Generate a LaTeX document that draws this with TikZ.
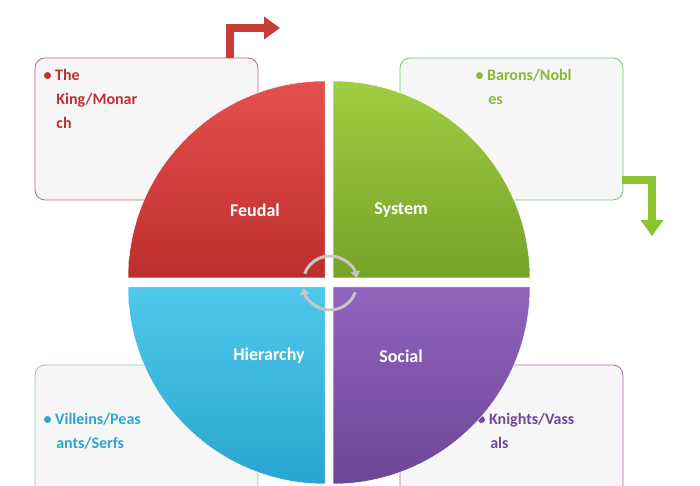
\documentclass[tikz,border=0pt]{standalone}
\usepackage{fontspec}
\setmainfont{Carlito}
\usetikzlibrary{arrows.meta}
\begin{document}
\begin{tikzpicture}[x=1pt,y=1pt,
  box/.style={rounded corners=10pt,fill=gray!7,line width=0.8pt},
  quad/.style={draw=white,line width=0.5pt},
  lab/.style={text=white,font=\bfseries\fontsize{18}{20}\selectfont},
  txt/.style={anchor=north west,align=left,font=\bfseries\fontsize{16}{24}\selectfont},
  bentarrow/.style={line width=8pt,-{Triangle[width=22pt,length=16pt]}},
  cyc/.style={line width=3pt,draw=gray!45,-{Triangle[width=9pt,length=7pt]}}]
\useasboundingbox (0,0) rectangle (700,486);
\clip (0,0) rectangle (700,486);
% boxes
\path[box,draw=red!60!black!60] (35,286) rectangle (258,428);
\path[box,draw=green!50!black!50] (400,286) rectangle (623,428);
\path[box,draw=cyan!60!black!50] (35,121) rectangle (258,-20);
\path[box,draw=violet!60] (400,121) rectangle (623,-20);
% box texts
\node[txt,text={rgb,255:red,192;green,48;blue,47}] (t1) at (40,420) {• The\\\hspace{0.8em}King/Monar\\\hspace{0.8em}ch};
\node[txt,text={rgb,255:red,140;green,185;blue,50}] (t2) at (472,420) {• Barons/Nobl\\\hspace{0.8em}es};
\node[txt,text={rgb,255:red,45;green,165;blue,205}] (t3) at (40,76) {• Villeins/Peas\\\hspace{0.8em}ants/Serfs};
\node[txt,text={rgb,255:red,112;green,72;blue,152}] (t4) at (474,76) {• Knights/Vass\\\hspace{0.8em}als};
% bent arrows
\coordinate (ra) at (230,428); \coordinate (rb) at (230,458); \coordinate (rc) at (280,458);
\draw[bentarrow,draw={rgb,255:red,200;green,60;blue,55}] (ra) -- (rb) -- (rc);
\coordinate (ga) at (622,306); \coordinate (gb) at (652,306); \coordinate (gc) at (652,250);
\draw[bentarrow,draw={rgb,255:red,140;green,195;blue,50}] (ga) -- (gb) -- (gc);
% quadrants
\shade[quad,top color={rgb,255:red,228;green,80;blue,78},bottom color={rgb,255:red,190;green,45;blue,45}]
  (325,208) -- (128,208) arc[start angle=180,end angle=90,radius=197] -- cycle;
\shade[quad,top color={rgb,255:red,160;green,205;blue,65},bottom color={rgb,255:red,118;green,162;blue,40}]
  (333,208) -- (333,405) arc[start angle=90,end angle=0,radius=197] -- cycle;
\shade[quad,top color={rgb,255:red,80;green,200;blue,235},bottom color={rgb,255:red,40;green,165;blue,208}]
  (325,199) -- (128,199) arc[start angle=180,end angle=270,radius=197] -- cycle;
\shade[quad,top color={rgb,255:red,145;green,100;blue,190},bottom color={rgb,255:red,108;green,70;blue,150}]
  (333,199) -- (333,2) arc[start angle=270,end angle=360,radius=197] -- cycle;
% labels
\node[lab] (feudal) at (255,276) {Feudal};
\node[lab] (system) at (401,276) {System};
\node[lab] (hier) at (269,130) {Hierarchy};
\node[lab] (social) at (401,130) {Social};
% center cycle
\draw[cyc] (330,203) ++(160:27) arc[start angle=160,end angle=10,radius=27];
\draw[cyc] (330,203) ++(-20:27) arc[start angle=-20,end angle=-170,radius=27];
\end{tikzpicture}
\end{document}
